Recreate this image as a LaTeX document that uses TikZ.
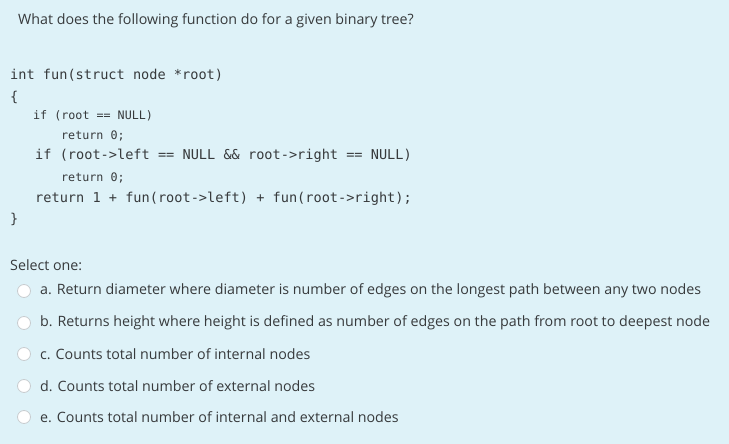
\documentclass[tikz,border=0pt]{standalone}
\usepackage{fontspec}
\setmainfont{Open Sans}
\setmonofont{DejaVu Sans Mono}
\definecolor{bg}{HTML}{DEF2F8}
\definecolor{txt}{HTML}{373A3C}
\definecolor{rad}{HTML}{C8CDD0}
\begin{document}
\begin{tikzpicture}[x=1pt,y=-1pt,
  t/.style={anchor=west,inner sep=0pt,text=txt,font=\fontsize{14.25}{16}\selectfont},
  cb/.style={anchor=west,inner sep=0pt,text=txt,font=\ttfamily\fontsize{13.6}{16}\selectfont},
  cs/.style={anchor=west,inner sep=0pt,text=txt,font=\ttfamily\fontsize{11.7}{14}\selectfont},
  radio/.style={circle,draw=rad,fill=white,line width=0.8pt,minimum size=13pt,inner sep=0pt}]
\fill[bg] (0,0) rectangle (729,444);
\useasboundingbox (0,0) rectangle (729,444);
\node[t] (q) at (18,21) {What does the following function do for a given binary tree?};
\node[cb] (c1) at (10,75) {int fun(struct node *root)};
\node[cb] (c2) at (10,97) {\{};
\node[cs] (c3) at (33,116) {if (root == NULL)};
\node[cs] (c4) at (61,136) {return 0;};
\node[cb] (c5) at (35,156) {if (root->left == NULL \&\& root->right == NULL)};
\node[cs] (c6) at (61,178) {return 0;};
\node[cb] (c7) at (35,199) {return 1 + fun(root->left) + fun(root->right);};
\node[cb] (c8) at (10,219) {\}};
\node[t] (s) at (10,265) {Select one:};
\node[radio] (ra) at (24,291) {};
\node[t] (oa) at (40,291) {a. Return diameter where diameter is number of edges on the longest path between any two nodes};
\node[radio] (rb) at (24,323) {};
\node[t] (ob) at (40,323) {b. Returns height where height is defined as number of edges on the path from root to deepest node};
\node[radio] (rc) at (24,354) {};
\node[t] (oc) at (40,354) {c. Counts total number of internal nodes};
\node[radio] (rd) at (24,386) {};
\node[t] (od) at (40,386) {d. Counts total number of external nodes};
\node[radio] (re) at (24,417) {};
\node[t] (oe) at (40,417) {e. Counts total number of internal and external nodes};
\end{tikzpicture}
\end{document}
